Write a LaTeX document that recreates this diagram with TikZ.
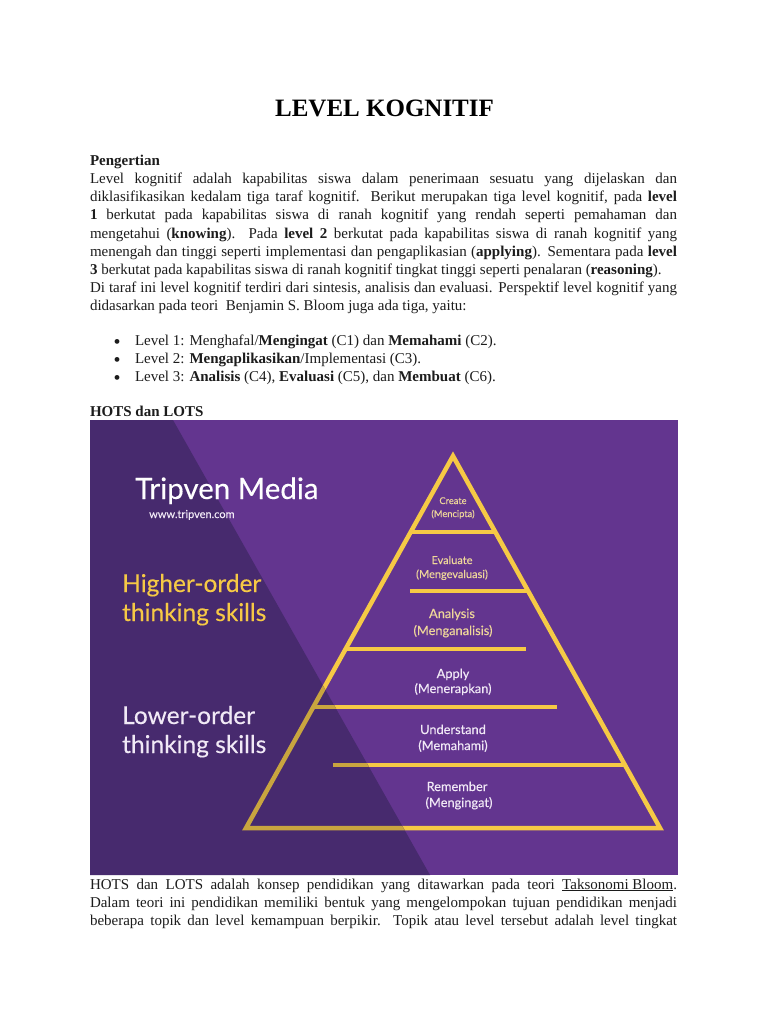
\documentclass[tikz,border=0pt]{standalone}
\usepackage{fontspec}
\setmainfont{Liberation Serif}
\newfontfamily\slidefont[FakeBold=0.25]{Lato}
\definecolor{slidebg}{HTML}{63358F}
\definecolor{slideshade}{HTML}{472A6E}
\definecolor{rung}{HTML}{F6C945}
\definecolor{rungdim}{HTML}{C9A53F}
\definecolor{inktext}{HTML}{1C1C1C}
\definecolor{creamtext}{HTML}{EFD79A}
\definecolor{paletext}{HTML}{F1E9F6}
\newcommand{\pagewidth}{587pt}
\newcommand{\jline}[1]{\hbox to \pagewidth{#1}}
% Outline and rungs, drawn twice: plain, then dimmed inside the shade
\newcommand{\pyramidlines}[1]{
        \draw[#1, line width=4.5pt, miter limit=10] (apex) -- (baseR) -- (baseL) -- cycle;
        \foreach \xa/\xb/\ypos in {412/497/532, 410/527/591, 347/526/649, 315/557/707, 333/625/765}
            \draw[#1, line width=4pt] (\xa, \ypos) -- (\xb, \ypos);
}
\tikzstyle{pageline}=[anchor=base west, inner sep=0, outer sep=0, text=inktext, font=\fontsize{15}{18}\selectfont]
\tikzstyle{stepname}=[anchor=base, inner sep=0, align=center, font=\slidefont\fontsize{12.8}{15}\selectfont]
\tikzstyle{bigslide}=[anchor=base west, inner sep=0, font=\slidefont\fontsize{24.5}{29}\selectfont]

\begin{document}
\begin{tikzpicture}[x=1pt, y=-1pt]
        \useasboundingbox (0, 0) rectangle (768, 1024);
        \fill[white] (0, 0) rectangle (768, 1024);

        % Page text
        \node[anchor=base, inner sep=0, text=black, font=\fontsize{25}{29}\selectfont\bfseries] (title) at (384.5, 117) {LEVEL KOGNITIF};
        \node[pageline] (head1) at (90, 166) {\textbf{Pengertian}};
        \node[pageline] (p1) at (90, 184) {\jline{Level kognitif adalah kapabilitas siswa dalam penerimaan sesuatu yang dijelaskan dan}};
        \node[pageline] (p2) at (90, 202) {\jline{diklasifikasikan kedalam tiga taraf kognitif. Berikut merupakan tiga level kognitif, pada \textbf{level}}};
        \node[pageline] (p3) at (90, 220) {\jline{\textbf{1} berkutat pada kapabilitas siswa di ranah kognitif yang rendah seperti pemahaman dan}};
        \node[pageline] (p4) at (90, 238) {\jline{mengetahui (\textbf{knowing}). Pada \textbf{level 2} berkutat pada kapabilitas siswa di ranah kognitif yang}};
        \node[pageline] (p5) at (90, 256) {\jline{menengah dan tinggi seperti implementasi dan pengaplikasian (\textbf{applying}). Sementara pada \textbf{level}}};
        \node[pageline] (p6) at (90, 274) {\textbf{3} berkutat pada kapabilitas siswa di ranah kognitif tingkat tinggi seperti penalaran (\textbf{reasoning}).};
        \node[pageline] (p7) at (90, 292) {\jline{Di taraf ini level kognitif terdiri dari sintesis, analisis dan evaluasi. Perspektif level kognitif yang}};
        \node[pageline] (p8) at (90, 310) {didasarkan pada teori\ \ Benjamin S. Bloom juga ada tiga, yaitu:};

        \foreach \ypos/\dotname in {345/dot1, 363/dot2, 381/dot3}
            \node[pageline, font=\fontsize{20}{20}\selectfont] (\dotname) at (113.5, \ypos+3) {\textbullet};
        \node[pageline] (item1) at (135, 345) {Level 1: Menghafal/\textbf{Mengingat} (C1) dan \textbf{Memahami} (C2).};
        \node[pageline] (item2) at (135, 363) {Level 2: \textbf{Mengaplikasikan}/Implementasi (C3).};
        \node[pageline] (item3) at (135, 381) {Level 3: \textbf{Analisis} (C4), \textbf{Evaluasi} (C5), dan \textbf{Membuat} (C6).};
        \node[pageline] (head2) at (90, 416) {\textbf{HOTS dan LOTS}};

        \node[pageline] (q1) at (90, 889) {\jline{HOTS dan LOTS adalah konsep pendidikan yang ditawarkan pada teori \underline{Taksonomi Bloom}.}};
        \node[pageline] (q2) at (90, 907) {\jline{Dalam teori ini pendidikan memiliki bentuk yang mengelompokan tujuan pendidikan menjadi}};
        \node[pageline] (q3) at (90, 925) {\jline{beberapa topik dan level kemampuan berpikir. Topik atau level tersebut adalah level tingkat}};

        % Slide background and pyramid
        \fill[slidebg] (90, 420) rectangle (678, 875);
        \coordinate (apex) at (453, 456);
        \coordinate (baseL) at (246, 828);
        \coordinate (baseR) at (660, 828);
        \pyramidlines{rung}

        % Shaded part goes over the pyramid
        \begin{scope}
            \fill[slideshade] (90, 420) -- (173, 420) -- (430, 875) -- (90, 875) -- cycle;
            \clip (90, 420) -- (173, 420) -- (430, 875) -- (90, 875) -- cycle;
            \pyramidlines{rungdim}
        \end{scope}

        % Slide text
        \node[bigslide, text=white, font=\slidefont\fontsize{29.5}{33}\selectfont] (brand) at (135, 499) {Tripven Media};
        \node[anchor=base west, inner sep=0, text=paletext, font=\slidefont\fontsize{11}{12}\selectfont] (site) at (149, 518) {www.tripven.com};
        \node[bigslide, text=rung] (high1) at (122, 592) {Higher-order};
        \node[bigslide, text=rung] (high2) at (122, 621) {thinking skills};
        \node[bigslide, text=paletext] (low1) at (122, 724) {Lower-order};
        \node[bigslide, text=paletext] (low2) at (122, 753) {thinking skills};

        \node[stepname, text=creamtext, font=\slidefont\fontsize{9.3}{11}\selectfont] (create) at (453, 504) {Create};
        \node[stepname, text=creamtext, font=\slidefont\fontsize{9.3}{11}\selectfont] (createb) at (453, 517) {(Mencipta)};
        \node[stepname, text=creamtext, font=\slidefont\fontsize{11}{13}\selectfont] (evaluate) at (452, 564) {Evaluate};
        \node[stepname, text=creamtext, font=\slidefont\fontsize{11}{13}\selectfont] (evaluateb) at (452, 578) {(Mengevaluasi)};
        \node[stepname, text=creamtext] (analysis) at (452, 618) {Analysis};
        \node[stepname, text=creamtext] (analysisb) at (453, 635) {(Menganalisis)};
        \node[stepname, text=paletext] (apply) at (453, 678) {Apply};
        \node[stepname, text=paletext] (applyb) at (453, 693) {(Menerapkan)};
        \node[stepname, text=paletext] (understand) at (453, 734) {Understand};
        \node[stepname, text=paletext] (understandb) at (453, 750) {(Memahami)};
        \node[stepname, text=paletext] (remember) at (457, 791) {Remember};
        \node[stepname, text=paletext] (rememberb) at (459, 807) {(Mengingat)};
\end{tikzpicture}
\end{document}
